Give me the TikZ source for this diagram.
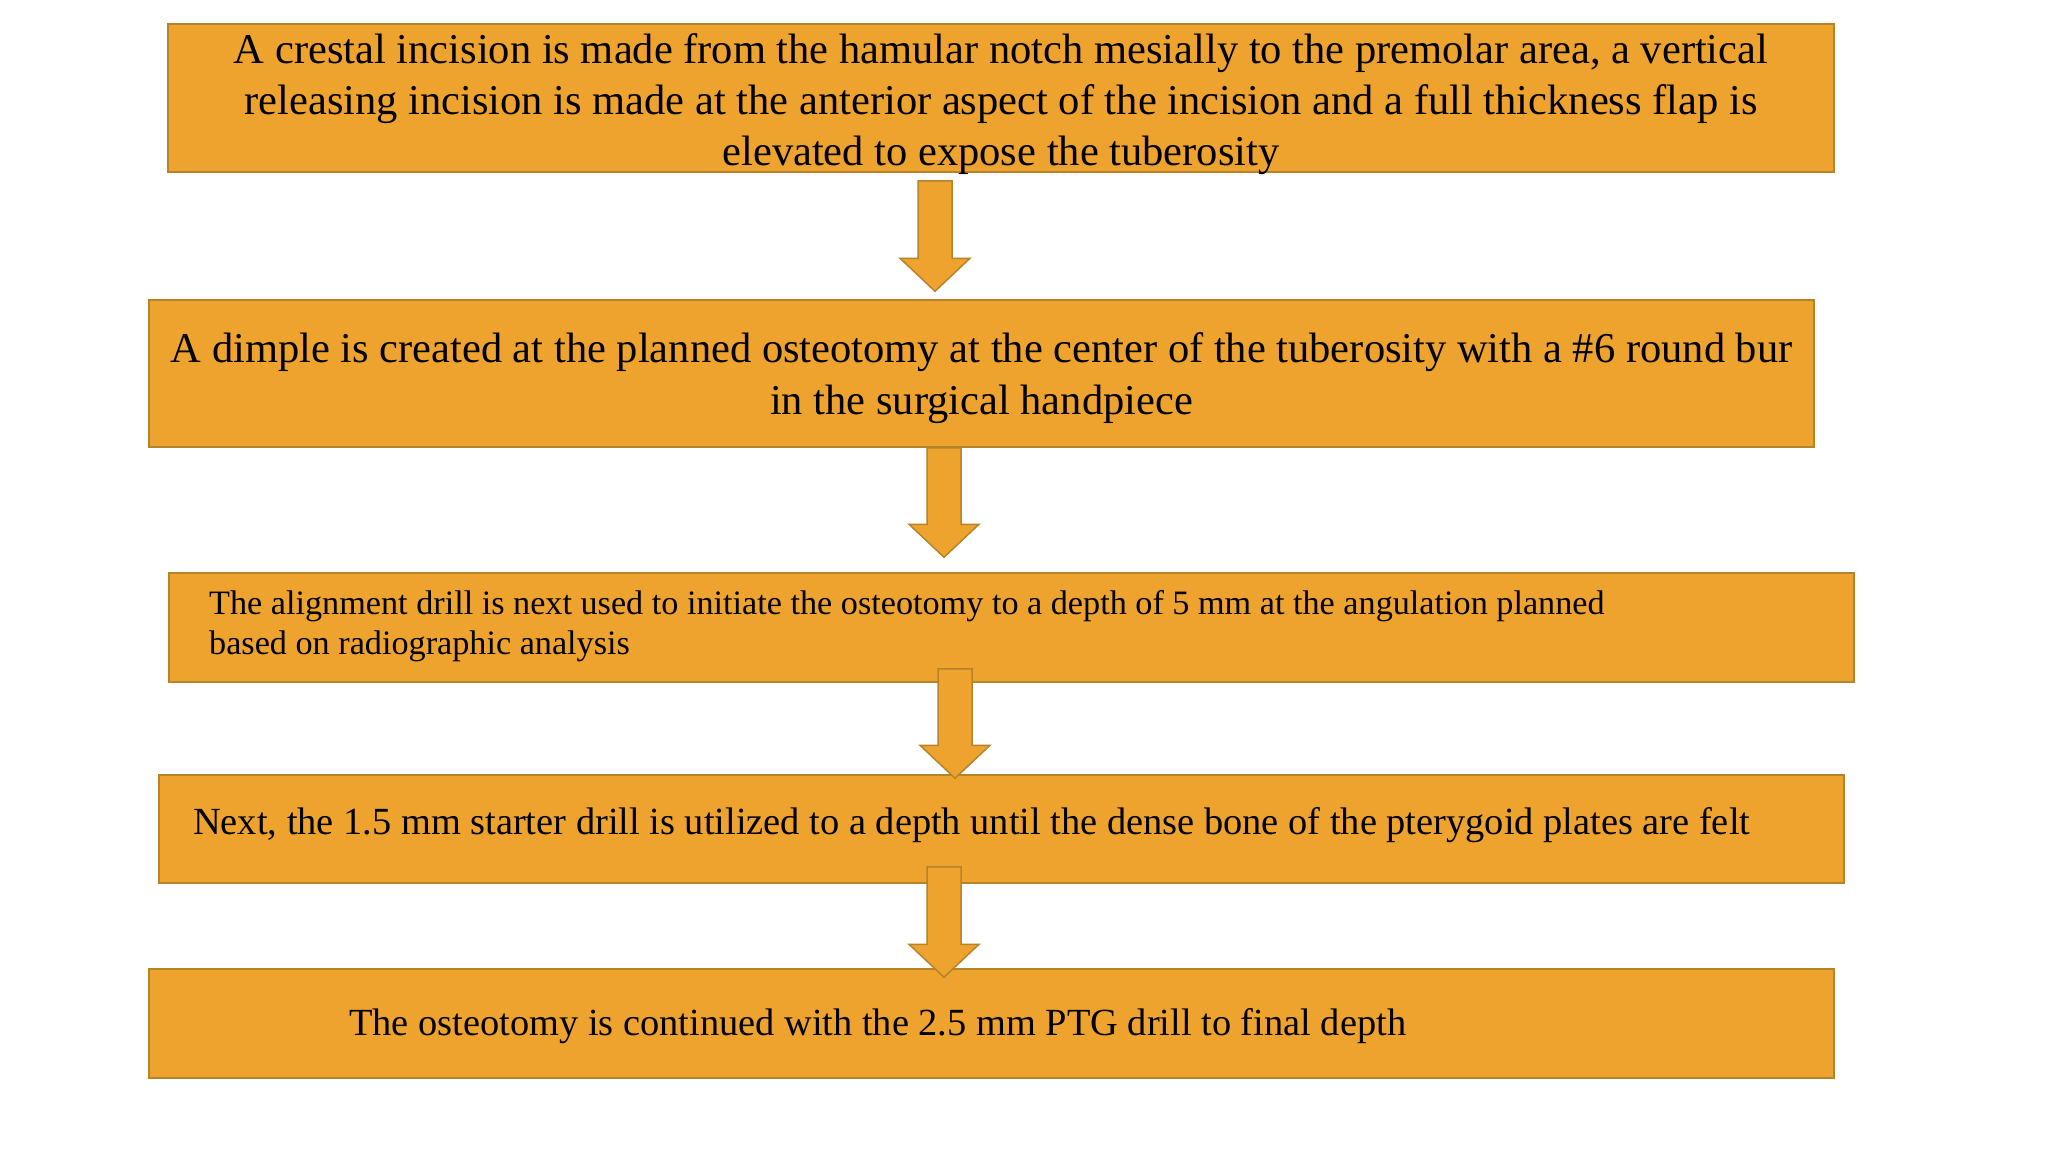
\documentclass[tikz,border=0pt]{standalone}
\usepackage{fontspec}
\setmainfont{Liberation Serif}
\usetikzlibrary{calc}
\definecolor{boxfill}{HTML}{EFA32F}
\definecolor{boxline}{HTML}{B5832A}
\tikzset{
  stepbox/.style={draw=boxline, fill=boxfill, line width=1.5pt, inner sep=0pt, rectangle},
  steptext/.style={inner sep=0pt, text=black},
  blockarrow/.style={draw=boxline, fill=boxfill, line width=1.5pt, line join=miter}
}
\newcommand\blockarrow[2]{%
  \draw[blockarrow] let \p1=(#1), \p2=(#2) in
    (\x1-17pt,\y1) -- (\x1+17pt,\y1) -- (\x1+17pt,\y2+33pt) -- (\x1+35pt,\y2+33pt)
    -- (\x2,\y2) -- (\x1-35pt,\y2+33pt) -- (\x1-17pt,\y2+33pt) -- cycle;}
\begin{document}
\begin{tikzpicture}[x=1pt,y=-1pt]
\useasboundingbox (0,0) rectangle (2048,1152);
\fill[white] (0,0) rectangle (2048,1152);
% boxes
\node[stepbox, minimum width=1666pt, minimum height=148pt] (b1) at (1001,98) {};
\node[stepbox, minimum width=1665pt, minimum height=147pt] (b2) at (981.5,373.5) {};
\node[stepbox, minimum width=1685pt, minimum height=109pt] (b3) at (1011.5,627.5) {};
\node[stepbox, minimum width=1685pt, minimum height=108pt] (b4) at (1001.5,829) {};
\node[stepbox, minimum width=1685pt, minimum height=109pt] (b5) at (991.5,1023.5) {};
% texts
\node[steptext, align=center, anchor=north, font=\fontsize{42.5}{51}\selectfont] (t1) at (1001,33)
 {A crestal incision is made from the hamular notch mesially to the premolar area, a vertical\\
  releasing incision is made at the anterior aspect of the incision and a full thickness flap is\\
  elevated to expose the tuberosity};
\node[steptext, align=center, anchor=north, font=\fontsize{42.5}{52}\selectfont] (t2) at (981.5,332)
 {A dimple is created at the planned osteotomy at the center of the tuberosity with a \#6 round bur\\
  in the surgical handpiece};
\node[steptext, align=left, anchor=north west, font=\fontsize{34.2}{40}\selectfont] (t3) at (209,590)
 {The alignment drill is next used to initiate the osteotomy to a depth of 5 mm at the angulation planned\\
  based on radiographic analysis};
\node[steptext, anchor=base west, font=\fontsize{38.4}{46}\selectfont] (t4) at (193,834)
 {Next, the 1.5 mm starter drill is utilized to a depth until the dense bone of the pterygoid plates are felt};
\node[steptext, anchor=base west, font=\fontsize{38.4}{46}\selectfont] (t5) at (349,1035)
 {The osteotomy is continued with the 2.5 mm PTG drill to final depth};
% arrows
\coordinate (a1s) at ($(b1.south)+(-66,8)$);
\coordinate (a1e) at ($(b2.north)+(-46.5,-8)$);
\coordinate (a2s) at ($(b2.south)+(-37.5,0)$);
\coordinate (a2e) at ($(b3.north)+(-67.5,-15)$);
\coordinate (a3s) at ($(b3.south)+(-56.5,-14)$);
\coordinate (a3e) at ($(b4.north)+(-46.5,4)$);
\coordinate (a4s) at ($(b4.south)+(-57.5,-17)$);
\coordinate (a4e) at ($(b5.north)+(-47.5,9)$);
\blockarrow{a1s}{a1e}
\blockarrow{a2s}{a2e}
\blockarrow{a3s}{a3e}
\blockarrow{a4s}{a4e}
\end{tikzpicture}
\end{document}
